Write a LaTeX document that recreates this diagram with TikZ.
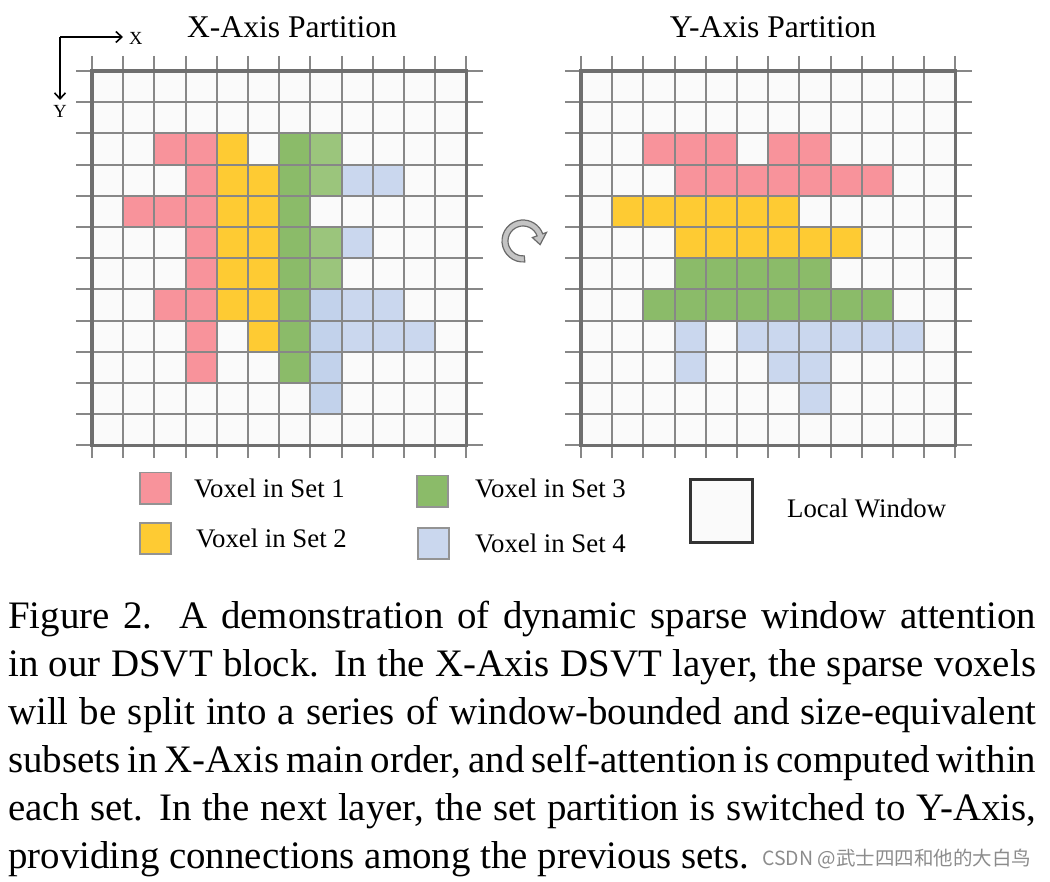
\documentclass[tikz,border=0pt]{standalone}
\usepackage{fontspec}
\setmainfont{Liberation Serif}
\newfontfamily\cjkfont{Noto Sans CJK SC}
\usetikzlibrary{arrows.meta}
\definecolor{setone}{HTML}{F8939B}
\definecolor{settwo}{HTML}{FECB33}
\definecolor{setthree}{HTML}{8BBB69}
\definecolor{setthreel}{HTML}{9BC57C}
\definecolor{setfour}{HTML}{CAD7EE}
\definecolor{setfourd}{HTML}{C2D2EB}
\definecolor{cellbg}{HTML}{FAFAFA}
\definecolor{gridln}{HTML}{878787}
\definecolor{gridbox}{HTML}{6E6E6E}
\definecolor{rotfill}{HTML}{C4C4C4}
\definecolor{rotedge}{HTML}{6A6A6A}
\tikzset{
gridline/.style={gridln,line width=2pt},
gridframe/.style={gridbox,line width=3.5pt},
title/.style={font=\fontsize{31.6}{36}\selectfont,anchor=base,inner sep=0pt},
axislabel/.style={font=\fontsize{18.5}{20}\selectfont,inner sep=0pt},
axisarrow/.style={-{Straight Barb[length=6pt,width=11pt]},line width=1.6pt},
legendbox/.style={draw=gridln!90,line width=1.5pt,minimum width=31pt,minimum height=31pt,anchor=north west,inner sep=0pt},
legendtext/.style={font=\fontsize{26.8}{30}\selectfont,anchor=base west,inner sep=0pt},
capline/.style={font=\fontsize{38.9}{48}\selectfont,anchor=base west,inner sep=0pt},
}
\begin{document}
\begin{tikzpicture}[x=1pt,y=-1pt]
\useasboundingbox(0,0)rectangle(1050,882);
\pgfmathsetmacro{\cs}{31.2};
\coordinate(origin)at(60,37);
\draw[axisarrow](origin)--++(63,0)coordinate(xend);
\draw[axisarrow](origin)--++(0,63)coordinate(yend);
\node[axislabel,anchor=west](xlab)at(129,38){X};
\node[axislabel](ylab)at(60,111){Y};
\node[title](xtitle)at(292,38){X-Axis Partition};
\node[title](ytitle)at(773,38){Y-Axis Partition};
\begin{scope}[shift={(92,71)}]
\fill[cellbg](0,0)rectangle(12*\cs,12*\cs);
\foreach \i/\j in {2/2,3/2,3/3,1/4,2/4,3/4,3/5,3/6,2/7,3/7,3/8,3/9}\fill[setone](\i*\cs,\j*\cs)rectangle++(\cs,\cs);
\foreach \i/\j in {4/2,4/3,5/3,4/4,5/4,4/5,5/5,4/6,5/6,4/7,5/7,5/8}\fill[settwo](\i*\cs,\j*\cs)rectangle++(\cs,\cs);
\foreach \i/\j in {6/2,6/3,6/4,6/5,6/6,6/7,6/8,6/9}\fill[setthree](\i*\cs,\j*\cs)rectangle++(\cs,\cs);
\foreach \i/\j in {7/2,7/3,7/5,7/6}\fill[setthreel](\i*\cs,\j*\cs)rectangle++(\cs,\cs);
\foreach \i/\j in {8/3,9/3,8/5,8/7,9/7,8/8,9/8,10/8}\fill[setfour](\i*\cs,\j*\cs)rectangle++(\cs,\cs);
\foreach \i/\j in {7/7,7/8,7/9,7/10}\fill[setfourd](\i*\cs,\j*\cs)rectangle++(\cs,\cs);
\foreach \k in {0,...,12}{
\draw[gridline](\k*\cs,-15)--(\k*\cs,12*\cs+13);
\draw[gridline](-16,\k*\cs)--(12*\cs+17,\k*\cs);
}
\draw[gridframe](0,0)rectangle(12*\cs,12*\cs);
\end{scope}
\begin{scope}[shift={(581,71)}]
\fill[cellbg](0,0)rectangle(12*\cs,12*\cs);
\foreach \i/\j in {2/2,3/2,4/2,6/2,7/2,3/3,4/3,5/3,6/3,7/3,8/3,9/3}\fill[setone](\i*\cs,\j*\cs)rectangle++(\cs,\cs);
\foreach \i/\j in {1/4,2/4,3/4,4/4,5/4,6/4,3/5,4/5,5/5,6/5,7/5,8/5}\fill[settwo](\i*\cs,\j*\cs)rectangle++(\cs,\cs);
\foreach \i/\j in {3/6,4/6,5/6,6/6,7/6,2/7,3/7,4/7,5/7,6/7,7/7,8/7,9/7}\fill[setthree](\i*\cs,\j*\cs)rectangle++(\cs,\cs);
\foreach \i/\j in {3/8,5/8,6/8,7/8,8/8,9/8,10/8,3/9,6/9,7/9,7/10}\fill[setfour](\i*\cs,\j*\cs)rectangle++(\cs,\cs);
\foreach \k in {0,...,12}{
\draw[gridline](\k*\cs,-15)--(\k*\cs,12*\cs+13);
\draw[gridline](-16,\k*\cs)--(12*\cs+17,\k*\cs);
}
\draw[gridframe](0,0)rectangle(12*\cs,12*\cs);
\end{scope}
\coordinate(rc)at(523,241);
\filldraw[fill=rotfill,draw=rotedge,line width=1.2pt]([shift={(85:21)}]rc)arc[start angle=85,end angle=340,radius=21]--([shift={(340:25)}]rc)--([shift={(12:17.5)}]rc)--([shift={(340:10)}]rc)--([shift={(340:15)}]rc)arc[start angle=340,end angle=85,radius=15]--cycle;
\node[legendbox,fill=setone](keyone)at(139,472){};
\node[legendbox,fill=settwo](keytwo)at(139,522){};
\node[legendbox,fill=setthree](keythree)at(416,475){};
\node[legendbox,fill=setfour](keyfour)at(417,527){};
\node[legendbox,draw=black!80,line width=3pt,fill=cellbg,minimum width=62pt,minimum height=63pt](keywin)at(689,478){};
\node[legendtext](txtone)at(194,497){Voxel in Set 1};
\node[legendtext](txttwo)at(196,547){Voxel in Set 2};
\node[legendtext](txtthree)at(475,497){Voxel in Set 3};
\node[legendtext](txtfour)at(475,552){Voxel in Set 4};
\node[legendtext](txtwin)at(787,518){Local Window};
\node[capline](capa)at(8,628){\makebox[1028pt][s]{Figure 2.\ \ A demonstration of dynamic sparse window attention}};
\node[capline](capb)at(8,676){\makebox[1028pt][s]{in our DSVT block. In the X-Axis DSVT layer, the sparse voxels}};
\node[capline](capc)at(8,724){\makebox[1028pt][s]{will be split into a series of window-bounded and size-equivalent}};
\node[capline](capd)at(8,772){\makebox[1028pt][s]{subsets in X-Axis main order, and self-attention is computed within}};
\node[capline](cape)at(8,820){\makebox[1028pt][s]{each set. In the next layer, the set partition is switched to Y-Axis,}};
\node[capline](capf)at(8,868){providing connections among the previous sets.};
\node[anchor=base west,inner sep=0pt,font=\cjkfont\fontsize{19.5}{21}\selectfont,text=black!45](mark)at(762,865){CSDN @武士四四和他的大白鸟};
\end{tikzpicture}
\end{document}
